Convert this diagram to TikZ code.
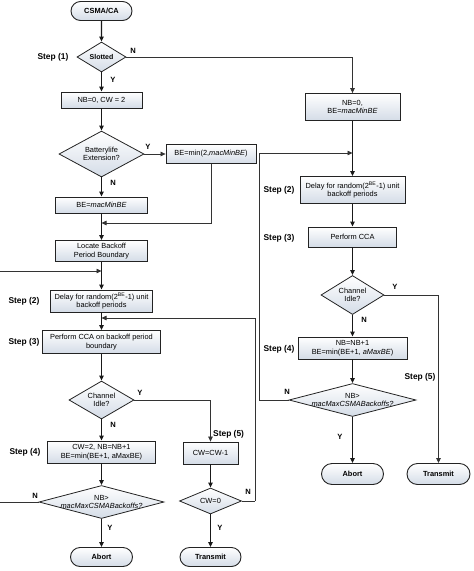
\documentclass[tikz,border=0pt]{standalone}
\usepackage{fontspec}
\setmainfont{Liberation Sans}
\usetikzlibrary{shapes.geometric,shapes.misc,arrows.meta}
\definecolor{boxbot}{RGB}{212,220,231}
\definecolor{edgec}{RGB}{35,35,35}
\begin{document}
\begin{tikzpicture}[x=1pt,y=-1pt,
  txt/.style={font=\fontsize{7.4}{8.6}\selectfont},
  procbox/.style={rectangle, draw=edgec, line width=0.8pt, top color=white, bottom color=boxbot,
     align=center, inner sep=1pt, txt},
  term/.style={rounded rectangle, draw=edgec, line width=0.9pt, top color=white, bottom color=boxbot,
     align=center, inner sep=1pt, font=\bfseries\fontsize{7.4}{8.6}\selectfont},
  dec/.style={diamond, draw=edgec, line width=0.8pt, top color=white, bottom color=boxbot, inner sep=0pt},
  dtext/.style={align=center, inner sep=0pt, txt},
  steplab/.style={font=\bfseries\fontsize{8.4}{10}\selectfont, inner sep=0pt},
  yn/.style={font=\bfseries\fontsize{7.6}{9}\selectfont, inner sep=0pt},
  flow/.style={draw=black!90, line width=1.2pt, -{Triangle[length=5pt,width=4.5pt]}},
  loopline/.style={draw=black!80, line width=0.75pt, -{Triangle[length=5pt,width=4.5pt]}},
  plain/.style={draw=black!80, line width=0.75pt}
]
\useasboundingbox (0,0) rectangle (474,571);

% ---------------- left column ----------------
\node[term, minimum width=63pt, minimum height=19pt] (csma) at (101.5,11) {CSMA/CA};
\node[dec, minimum width=49pt, minimum height=30pt, label={[dtext, font=\bfseries\fontsize{7}{8}\selectfont]center:Slotted}] (slot) at (101.5,57) {};
\node[procbox, minimum width=81pt, minimum height=16pt] (nb0) at (101.5,100) {NB=0, CW = 2};
\node[dec, minimum width=85pt, minimum height=46pt, label={[dtext]center:{Batterylife\\Extension?}}] (batt) at (101.5,154) {};
\node[procbox, minimum width=90pt, minimum height=19pt] (bemin) at (211,154) {BE=min(2,\textit{macMinBE})};
\node[procbox, minimum width=92pt, minimum height=16pt] (bemac) at (101.5,205) {BE=\textit{macMinBE}};
\node[procbox, minimum width=92pt, minimum height=21pt] (locate) at (101.5,251) {Locate Backoff\\Period Boundary};
\node[procbox, minimum width=102pt, minimum height=22pt] (delay) at (101.5,301) {Delay for random(2\textsuperscript{BE}-1) unit\\backoff periods};
\node[procbox, minimum width=118pt, minimum height=23pt] (cca) at (101.5,342) {Perform CCA on backoff period\\boundary};
\node[dec, minimum width=65pt, minimum height=38pt, label={[dtext]center:{Channel\\Idle?}}] (idle) at (101.5,400) {};
\node[procbox, minimum width=108pt, minimum height=22pt] (cw2) at (101.5,452) {CW=2, NB=NB+1\\BE=min(BE+1, aMaxBE)};
\node[dec, minimum width=125pt, minimum height=33pt, label={[dtext]center:{NB\textgreater\\\textit{macMaxCSMABackoffs?}}}] (nbl) at (101.5,502) {};
\node[term, minimum width=64pt, minimum height=19pt] (abortl) at (101.5,557) {Abort};

\node[procbox, minimum width=55pt, minimum height=22pt] (cwm1) at (210.5,453) {CW=CW-1};
\node[dec, minimum width=62pt, minimum height=26pt, label={[dtext]center:{CW=0}}] (cw0) at (210.5,501) {};
\node[term, minimum width=63pt, minimum height=19pt] (transl) at (210.5,557) {Transmit};

% ---------------- right column ----------------
\node[procbox, minimum width=95pt, minimum height=27pt] (nb0r) at (352.5,107) {NB=0,\\BE=\textit{macMinBE}};
\node[procbox, minimum width=105pt, minimum height=27pt] (delayr) at (352.5,190) {Delay for random(2\textsuperscript{BE}-1) unit\\backoff periods};
\node[procbox, minimum width=88pt, minimum height=20pt] (ccar) at (352.5,237) {Perform CCA};
\node[dec, minimum width=63pt, minimum height=39pt, label={[dtext]center:{Channel\\Idle?}}] (idler) at (352.5,295) {};
\node[procbox, minimum width=109pt, minimum height=22pt] (nbbr) at (352.5,348) {NB=NB+1\\BE=min(BE+1, \textit{aMaxBE})};
\node[dec, minimum width=127pt, minimum height=33pt, label={[dtext]center:{NB\textgreater\\\textit{macMaxCSMABackoffs?}}}] (nbr) at (352.5,400) {};
\node[term, minimum width=64pt, minimum height=21pt] (abortr) at (352.5,474) {Abort};
\node[term, minimum width=65pt, minimum height=21pt] (transr) at (438.5,474) {Transmit};

% ---------------- junction coordinates ----------------
\coordinate (jbe) at (101.5,223);
\coordinate (jleft) at (101.5,271);
\coordinate (jcw) at (101.5,318);
\coordinate (jright) at (352.5,153);
\coordinate (lloop) at (-1,502);
\coordinate (cwloop) at (255,501);
\coordinate (rloop) at (259,400);

% ---------------- connectors, left ----------------
\draw[flow] (csma) -- (slot);
\draw[flow] (slot) -- (nb0);
\draw[flow] (nb0) -- (batt);
\draw[loopline] (batt) -- (bemin);
\draw[flow] (batt) -- (bemac);
\draw[flow] (bemac) -- (locate);
\draw[loopline] (bemin.south) |- (jbe);
\draw[flow] (locate) -- (delay);
\draw[loopline] (lloop) |- (jleft);
\draw[plain] (nbl.west) -- (lloop);
\draw[flow] (delay) -- (cca);
\draw[flow] (cca) -- (idle);
\draw[flow] (idle) -- (cw2);
\draw[loopline] (idle.east) -| (cwm1.north);
\draw[flow] (cw2) -- (nbl);
\draw[flow] (nbl) -- (abortl);
\draw[flow] (cwm1) -- (cw0);
\draw[flow] (cw0) -- (transl);
\draw[plain] (cw0.east) -- (cwloop);
\draw[loopline] (cwloop) |- (jcw);

% ---------------- connectors, right ----------------
\draw[loopline] (slot.east) -| (nb0r.north);
\draw[flow] (nb0r) -- (delayr);
\draw[flow] (delayr) -- (ccar);
\draw[flow] (ccar) -- (idler);
\draw[flow] (idler) -- (nbbr);
\draw[flow] (nbbr) -- (nbr);
\draw[flow] (nbr) -- (abortr);
\draw[loopline] (idler.east) -| (transr.north);
\draw[plain] (nbr.west) -- (rloop);
\draw[loopline] (rloop) |- (jright);

% ---------------- step labels ----------------
\node[steplab] (s1) at (53,57) {Step (1)};
\node[steplab] (s2) at (24,301) {Step (2)};
\node[steplab] (s3) at (24,342) {Step (3)};
\node[steplab] (s4) at (25,452) {Step (4)};
\node[steplab, anchor=west] (s5) at (213,434) {Step (5)};
\node[steplab] (s2r) at (279,190) {Step (2)};
\node[steplab] (s3r) at (279,238) {Step (3)};
\node[steplab] (s4r) at (279,349) {Step (4)};
\node[steplab] (s5r) at (420,377) {Step (5)};

% ---------------- Y / N labels ----------------
\node[yn] (n1) at (133,51) {N};
\node[yn] (y1) at (113,80) {Y};
\node[yn] (y2) at (148,147) {Y};
\node[yn] (n2) at (113,183) {N};
\node[yn] (y3) at (140,393) {Y};
\node[yn] (n3) at (113,425) {N};
\node[yn] (n4) at (35,496) {N};
\node[yn] (y4) at (110,528) {Y};
\node[yn] (n5) at (248,492) {N};
\node[yn] (y5) at (220,528) {Y};
\node[yn] (y6) at (395,287) {Y};
\node[yn] (n6) at (364,320) {N};
\node[yn] (n7) at (287,392) {N};
\node[yn] (y7) at (340,437) {Y};
\end{tikzpicture}
\end{document}
